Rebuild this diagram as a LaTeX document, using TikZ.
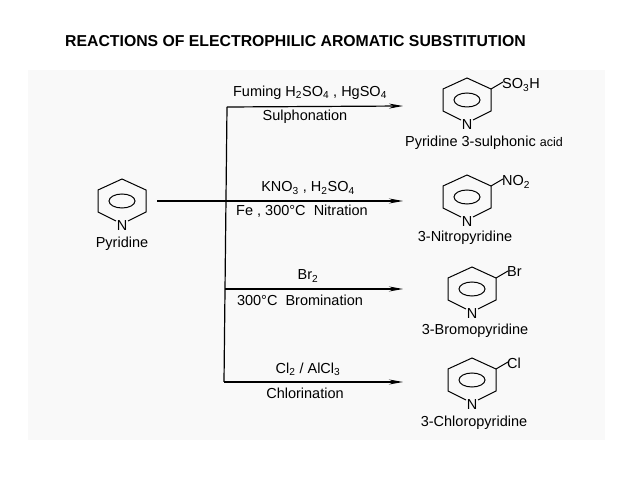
\documentclass[tikz,border=0pt]{standalone}
\usepackage{fontspec}
\setmainfont{Liberation Sans}
\usetikzlibrary{arrows.meta}
\begin{document}
\begin{tikzpicture}[x=1pt,y=-1pt,
  lab/.style={font=\fontsize{14.5}{16}\selectfont, inner sep=0pt},
  rxn/.style={line width=1.2pt, -{Stealth[length=14pt,width=5pt]}},
  bond/.style={line width=1pt},
  pics/pyr/.style={code={
    \draw[bond] (-6,20) -- (-24,11) -- (-24,-11) -- (0,-22) -- (24,-11) -- (24,11) -- (6,20);
    \draw[bond] (0,0) ellipse (13pt and 7pt);
    \node[lab] at (0,25) {N};
  }}]
\useasboundingbox (0,0) rectangle (638,478);
\fill[white] (0,0) rectangle (638,478);
\fill[gray!5] (28,70) rectangle (605,440);
\node[font=\bfseries\fontsize{15.8}{18}\selectfont, anchor=west, inner sep=0pt] (title) at (65,41) {REACTIONS OF ELECTROPHILIC AROMATIC SUBSTITUTION};
% pyridine
\pic at (122,201) {pyr};
\node[lab] (pyr) at (122,244) {Pyridine};
\coordinate (ps) at (157,201);
\coordinate (top) at (227,107);
\coordinate (bot) at (224,382);
\coordinate (br) at (225,289);
\coordinate (t1) at (403,106);
\coordinate (t2) at (403,201);
\coordinate (t3) at (403,289);
\coordinate (t4) at (403,382);
\draw[line width=1.2pt] (top) -- (bot);
\draw[rxn] (top) -- (t1);
\draw[rxn] (ps) -- (t2);
\draw[rxn] (br) -- (t3);
\draw[rxn] (bot) -- (t4);
\node[lab] at (310,93) {Fuming H\textsubscript{2}SO\textsubscript{4} , HgSO\textsubscript{4}};
\node[lab] at (305,117) {Sulphonation};
\node[lab] at (308,188) {KNO\textsubscript{3} , H\textsubscript{2}SO\textsubscript{4}};
\node[lab] at (302,211) {Fe , 300°C\ \ Nitration};
\node[lab] at (308,276) {Br\textsubscript{2}};
\node[lab] at (300,300) {300°C\ \ Bromination};
\node[lab] at (308,369) {Cl\textsubscript{2} / AlCl\textsubscript{3}};
\node[lab] at (305,393) {Chlorination};
% products
\pic at (467,100) {pyr};
\draw[bond] (491,89) -- (503,82);
\node[lab, anchor=west] at (502,85) {SO\textsubscript{3}H};
\node[lab] at (484,143) {Pyridine 3-sulphonic {\fontsize{12.5}{14}\selectfont acid}};
\pic at (467,197) {pyr};
\draw[bond] (491,186) -- (503,179);
\node[lab, anchor=west] at (502,182) {NO\textsubscript{2}};
\node[lab] at (465,238) {3-Nitropyridine};
\pic at (472,289) {pyr};
\draw[bond] (496,278) -- (508,271);
\node[lab, anchor=west] at (507,272) {Br};
\node[lab] at (475,331) {3-Bromopyridine};
\pic at (472,380) {pyr};
\draw[bond] (496,369) -- (508,362);
\node[lab, anchor=west] at (507,363) {Cl};
\node[lab] at (474,423) {3-Chloropyridine};
\end{tikzpicture}
\end{document}
